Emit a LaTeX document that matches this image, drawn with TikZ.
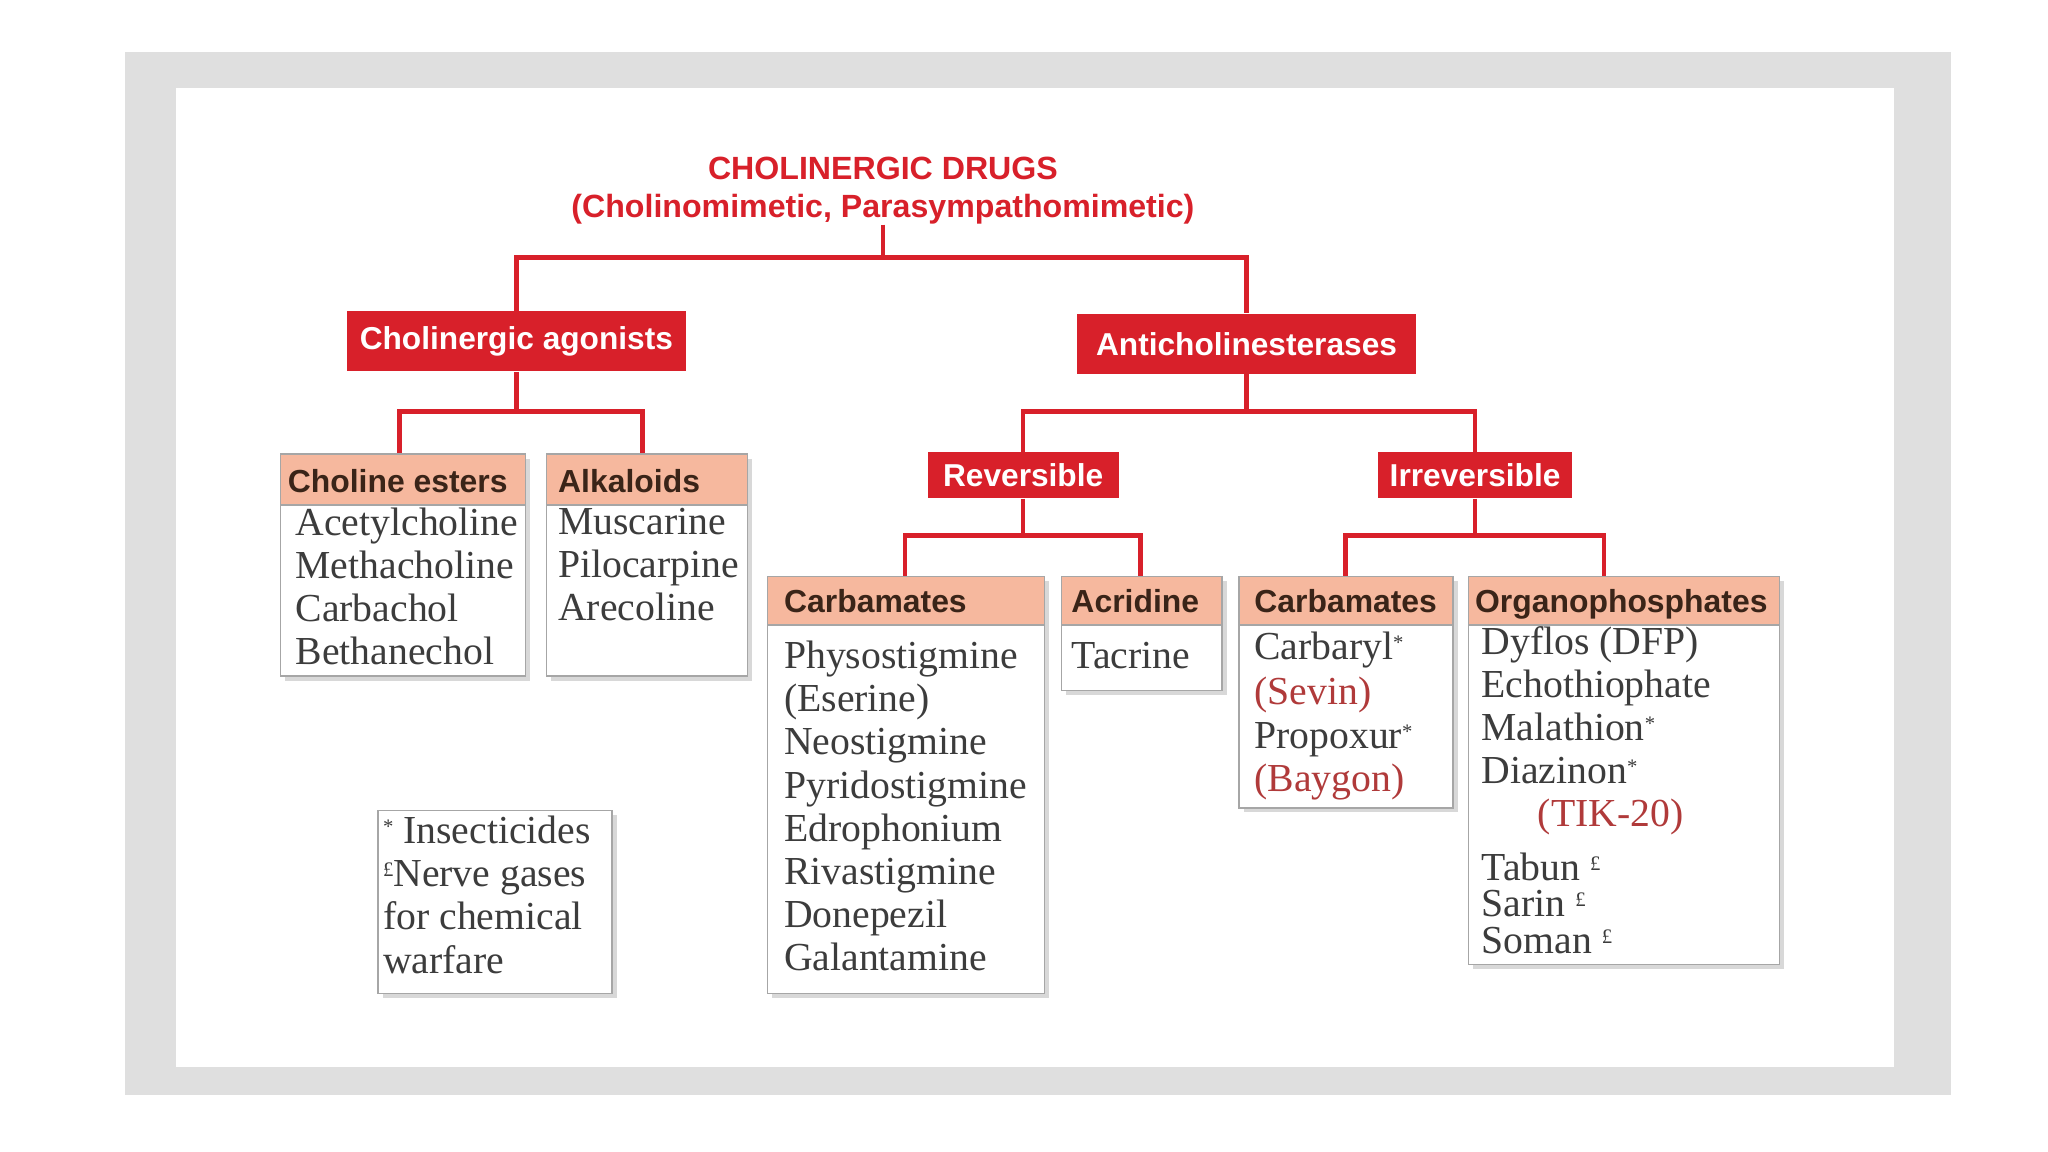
\documentclass[tikz,border=0pt]{standalone}
\usepackage{fontspec}
\setmainfont{Liberation Serif}
\setsansfont{Liberation Sans}
\usetikzlibrary{shadows}
\definecolor{dred}{HTML}{D8202A}
\definecolor{salm}{HTML}{F6B89E}
\definecolor{bodyc}{HTML}{3C3C3C}
\definecolor{hdrc}{HTML}{3A2418}
\definecolor{paren}{HTML}{B03A3A}
\tikzset{
  conn/.style={dred,line width=2pt},
  redbox/.style={fill=dred,text=white,font=\sffamily\bfseries\fontsize{13.8}{15}\selectfont,inner sep=0pt,anchor=north west},
  hdr/.style={fill=salm,draw=gray!70,line width=0.6pt,anchor=north west,inner sep=0pt,text=hdrc},
  bodybox/.style={fill=white,draw=gray!70,line width=0.6pt,anchor=north west,inner sep=0pt,drop shadow={shadow xshift=2pt,shadow yshift=-2pt,fill=gray!60}},
  item/.style={anchor=base west,inner sep=0pt,font=\fontsize{17.3}{19}\selectfont,text=bodyc},
  pitem/.style={item,text=paren},
  htxt/.style={anchor=base west,inner sep=0pt,font=\sffamily\bfseries\fontsize{13.9}{15}\selectfont,text=hdrc},
}
\newcommand\pxw[1]{#1*0.02cm}
\newcommand\supmark[1]{\raisebox{0.55ex}{\fontsize{9}{9}\selectfont #1}}
\begin{document}
\begin{tikzpicture}[x=0.02cm,y=-0.02cm]
\useasboundingbox (0,0) rectangle (1568,882);
\fill[white] (0,0) rectangle (1568,882);
\fill[gray!25] (96,40) rectangle (1494,838);
\fill[white] (135,67) rectangle (1450,817);
% title
\node[text=dred,font=\sffamily\bfseries\fontsize{14}{16.5}\selectfont,align=center,inner sep=0pt] (title) at (676,146) {CHOLINERGIC DRUGS\\(Cholinomimetic, Parasympathomimetic)};
% level 1
\node[redbox,minimum width=\pxw{260},minimum height=\pxw{46}] (ag) at (265,238) {Cholinergic agonists};
\node[redbox,minimum width=\pxw{260},minimum height=\pxw{46}] (an) at (824,240) {Anticholinesterases};
\draw[conn] (title.south) -- (title.south |- 0,197) -| (ag.north);
\draw[conn] (title.south |- 0,197) -| (an.north);
% level 2 red
\node[redbox,minimum width=\pxw{146},minimum height=\pxw{35}] (rev) at (710,346) {Reversible};
\node[redbox,minimum width=\pxw{148},minimum height=\pxw{35}] (irr) at (1055,346) {Irreversible};
% boxes
\node[bodybox,minimum width=\pxw{188},minimum height=\pxw{170}] (ceb) at (214,347) {};
\node[hdr,minimum width=\pxw{188},minimum height=\pxw{39}] (ce) at (214,347) {};
\node[bodybox,minimum width=\pxw{154},minimum height=\pxw{170}] (alb) at (418,347) {};
\node[hdr,minimum width=\pxw{154},minimum height=\pxw{39}] (al) at (418,347) {};
\node[bodybox,minimum width=\pxw{212},minimum height=\pxw{319}] (cab) at (587,441) {};
\node[hdr,minimum width=\pxw{212},minimum height=\pxw{37}] (ca) at (587,441) {};
\node[bodybox,minimum width=\pxw{123},minimum height=\pxw{87}] (acb) at (812,441) {};
\node[hdr,minimum width=\pxw{123},minimum height=\pxw{37}] (ac) at (812,441) {};
\node[bodybox,minimum width=\pxw{164},minimum height=\pxw{177}] (cbb) at (948,441) {};
\node[hdr,minimum width=\pxw{164},minimum height=\pxw{37}] (cb) at (948,441) {};
\node[bodybox,minimum width=\pxw{238},minimum height=\pxw{297}] (opb) at (1124,441) {};
\node[hdr,minimum width=\pxw{238},minimum height=\pxw{37}] (op) at (1124,441) {};
\node[bodybox,minimum width=\pxw{179},minimum height=\pxw{140}] (leg) at (289,620) {};
% connectors
\draw[conn] (ag.south) -- (ag.south |- 0,315) coordinate (j1) -| (ce.north -| 306,0);
\draw[conn] (j1) -| (al.north -| 492,0);
\draw[conn] (an.south) -- (an.south |- 0,315) coordinate (j2) -| (rev.north);
\draw[conn] (j2) -| (irr.north);
\draw[conn] (rev.south) -- (rev.south |- 0,410) coordinate (j3) -| (ca.north -| 693,0);
\draw[conn] (j3) -| (ac.north -| 873,0);
\draw[conn] (irr.south) -- (irr.south |- 0,410) coordinate (j4) -| (cb.north -| 1030,0);
\draw[conn] (j4) -| (op.north -| 1228,0);
% header texts
\node[htxt] (t1) at (220,377) {Choline esters};
\node[htxt] (t2) at (427,377) {Alkaloids};
\node[htxt] (t3) at (600,469) {Carbamates};
\node[htxt] (t4) at (820,469) {Acridine};
\node[htxt] (t5) at (960,469) {Carbamates};
\node[htxt] (t6) at (1129,469) {Organophosphates};
% items
\node[item] (i1) at (226,410) {Acetylcholine};
\node[item] (i2) at (226,443) {Methacholine};
\node[item] (i3) at (226,476) {Carbachol};
\node[item] (i4) at (226,509) {Bethanechol};
\node[item] (i5) at (427,409) {Muscarine};
\node[item] (i6) at (427,442) {Pilocarpine};
\node[item] (i7) at (427,475) {Arecoline};
\node[item] (r1) at (600,512) {Physostigmine};
\node[item] (r2) at (600,545) {(Eserine)};
\node[item] (r3) at (600,578) {Neostigmine};
\node[item] (r4) at (600,611) {Pyridostigmine};
\node[item] (r5) at (600,644) {Edrophonium};
\node[item] (r6) at (600,677) {Rivastigmine};
\node[item] (r7) at (600,710) {Donepezil};
\node[item] (r8) at (600,743) {Galantamine};
\node[item] (a1) at (820,512) {Tacrine};
\node[item] (c1) at (960,505) {Carbaryl\supmark{*}};
\node[pitem] (c2) at (960,539) {(Sevin)};
\node[item] (c3) at (960,573) {Propoxur\supmark{*}};
\node[pitem] (c4) at (960,606) {(Baygon)};
\node[item] (o1) at (1134,501) {Dyflos (DFP)};
\node[item] (o2) at (1134,534) {Echothiophate};
\node[item] (o3) at (1134,567) {Malathion\supmark{*}};
\node[item] (o4) at (1134,600) {Diazinon\supmark{*}};
\node[pitem] (o5) at (1177,633) {(TIK-20)};
\node[item] (o6) at (1134,674) {Tabun \supmark{£}};
\node[item] (o7) at (1134,702) {Sarin \supmark{£}};
\node[item] (o8) at (1134,730) {Soman \supmark{£}};
\node[item] (l1) at (293,646) {\supmark{*} Insecticides};
\node[item] (l2) at (293,679) {\supmark{£}Nerve gases};
\node[item] (l3) at (293,712) {for chemical};
\node[item] (l4) at (293,745) {warfare};
\end{tikzpicture}
\end{document}
